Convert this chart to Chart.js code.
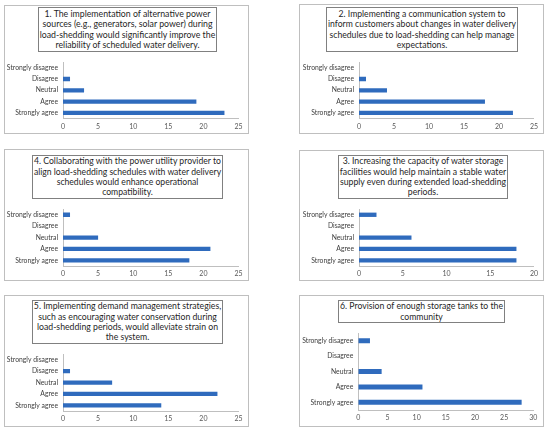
<!DOCTYPE html>
<html>
<head>
<meta charset="utf-8">
<script src="https://cdn.jsdelivr.net/npm/chart.js@4.4.1/dist/chart.umd.min.js"></script>
<style>
  body { margin: 0; background: #fff; width: 550px; height: 432px; position: relative; overflow: hidden; font-family: Lato, "Open Sans", sans-serif; }
  .panel { position: absolute; border: 1px solid #bfbfbf; box-sizing: border-box; }
  .title { position: absolute; border: 1px solid #808080; box-sizing: border-box; background: #fff;
           font-size: 9.4px; line-height: 10.3px; color: #1f1f1f; text-align: center; white-space: nowrap;
           display: flex; flex-direction: column; align-items: center; justify-content: center; }
  .title span { display: block; }
  .chartbox { position: absolute; }
</style>
</head>
<body>
<script>
  // answers (top to bottom on each chart)
  const categories = ['Strongly disagree', 'Disagree', 'Neutral', 'Agree', 'Strongly agree'];

  const q1Values = [0, 1, 3, 19, 23];
  const q2Values = [0, 1, 4, 18, 22];
  const q4Values = [1, 0, 5, 21, 18];
  const q3Values = [2, 0, 6, 18, 18];
  const q5Values = [0, 1, 7, 22, 14];
  const q6Values = [2, 0, 4, 11, 28];

  const q1Title = ['1. The implementation of alternative power', 'sources (e.g., generators, solar power) during', 'load-shedding would significantly improve the', 'reliability of scheduled water delivery.'];
  const q2Title = ['2. Implementing a communication system to', 'inform customers about changes in water delivery', 'schedules due to load-shedding can help manage', 'expectations.'];
  const q4Title = ['4. Collaborating with the power utility provider to', 'align load-shedding schedules with water delivery', 'schedules would enhance operational', 'compatibility.'];
  const q3Title = ['3. Increasing the capacity of water storage', 'facilities would help maintain a stable water', 'supply even during extended load-shedding', 'periods.'];
  const q5Title = ['5. Implementing demand management strategies,', 'such as encouraging water conservation during', 'load-shedding periods, would alleviate strain on', 'the system.'];
  const q6Title = ['6. Provision of enough storage tanks to the', 'community'];

  // x axis ranges
  const xMaxes = [25, 25, 25, 20, 25, 30];
  const xStep = 5;

  const barColor = '#2f6bbd';

  // layout: outer box, title box, plot area  [left, top, right, bottom]
  const panels = [
    { values: q1Values, title: q1Title, xMax: xMaxes[0], box: [4, 5, 249, 134],   head: [38, 7, 217, 52],   plot: [63, 58, 238.5, 118.5] },
    { values: q2Values, title: q2Title, xMax: xMaxes[1], box: [299, 4, 544, 134], head: [326, 7, 518, 52],  plot: [359, 58, 534.3, 118.5] },
    { values: q4Values, title: q4Title, xMax: xMaxes[2], box: [4, 149, 249, 281], head: [32, 155, 223, 199], plot: [63, 206, 238.5, 266] },
    { values: q3Values, title: q3Title, xMax: xMaxes[3], box: [299, 150, 544, 281], head: [338, 155, 508, 199], plot: [359, 206, 534.3, 266] },
    { values: q5Values, title: q5Title, xMax: xMaxes[4], box: [4, 295, 249, 427], head: [32, 300, 223, 344], plot: [63, 351, 238.5, 411] },
    { values: q6Values, title: q6Title, xMax: xMaxes[5], box: [299, 295, 544, 427], head: [338, 300, 505, 323], plot: [358.3, 329, 533.3, 410] }
  ];

  function place(el, r) {
    el.style.left = r[0] + 'px';
    el.style.top = r[1] + 'px';
    el.style.width = (r[2] - r[0]) + 'px';
    el.style.height = (r[3] - r[1]) + 'px';
  }

  Chart.defaults.font.family = 'Lato, "Open Sans", sans-serif';
  Chart.defaults.animation = false;

  panels.forEach(function(p) {
    const box = document.createElement('div');
    box.className = 'panel';
    place(box, p.box);
    document.body.appendChild(box);

    const head = document.createElement('div');
    head.className = 'title';
    place(head, p.head);
    head.innerHTML = p.title.map(function(t) { return '<span>' + t + '</span>'; }).join('');
    document.body.appendChild(head);

    // shrink the title text if its widest line would hit the box edges
    const room = (p.head[2] - p.head[0]) - 4;
    let widest = 0;
    head.querySelectorAll('span').forEach(function(s) { widest = Math.max(widest, s.getBoundingClientRect().width); });
    if (widest > room) head.style.fontSize = (9.4 * room / widest).toFixed(2) + 'px';

    // chart area sits under the title box
    const area = [p.box[0] + 2, p.head[3] + 1, p.box[2] - 2, p.box[3] - 2];
    const wrap = document.createElement('div');
    wrap.className = 'chartbox';
    place(wrap, area);
    const canvas = document.createElement('canvas');
    wrap.appendChild(canvas);
    document.body.appendChild(wrap);

    new Chart(canvas, {
      type: 'bar',
      data: {
        labels: categories,
        datasets: [{
          data: p.values,
          backgroundColor: barColor,
          categoryPercentage: 1,
          barPercentage: p.title.length === 2 ? 0.32 : 0.38
        }]
      },
      options: {
        indexAxis: 'y',
        responsive: true,
        maintainAspectRatio: false,
        layout: {
          padding: { top: p.plot[1] - area[1], right: area[2] - p.plot[2], left: 0, bottom: 0 }
        },
        plugins: {
          legend: { display: false },
          tooltip: { enabled: false }
        },
        scales: {
          x: {
            min: 0,
            max: p.xMax,
            ticks: { stepSize: xStep, color: '#595959', font: { size: 7 }, padding: 4, maxRotation: 0 },
            grid: { display: false, drawTicks: false },
            border: { display: true, color: '#bfbfbf', width: 1 },
            afterFit: function(scale) { scale.height = area[3] - p.plot[3]; }
          },
          y: {
            ticks: { color: '#404040', font: { size: 6.8 }, padding: 5, autoSkip: false },
            grid: { display: false, drawTicks: false },
            border: { display: true, color: '#bfbfbf', width: 1 },
            afterFit: function(scale) { scale.width = p.plot[0] - area[0]; }
          }
        }
      }
    });
  });
</script>
</body>
</html>
